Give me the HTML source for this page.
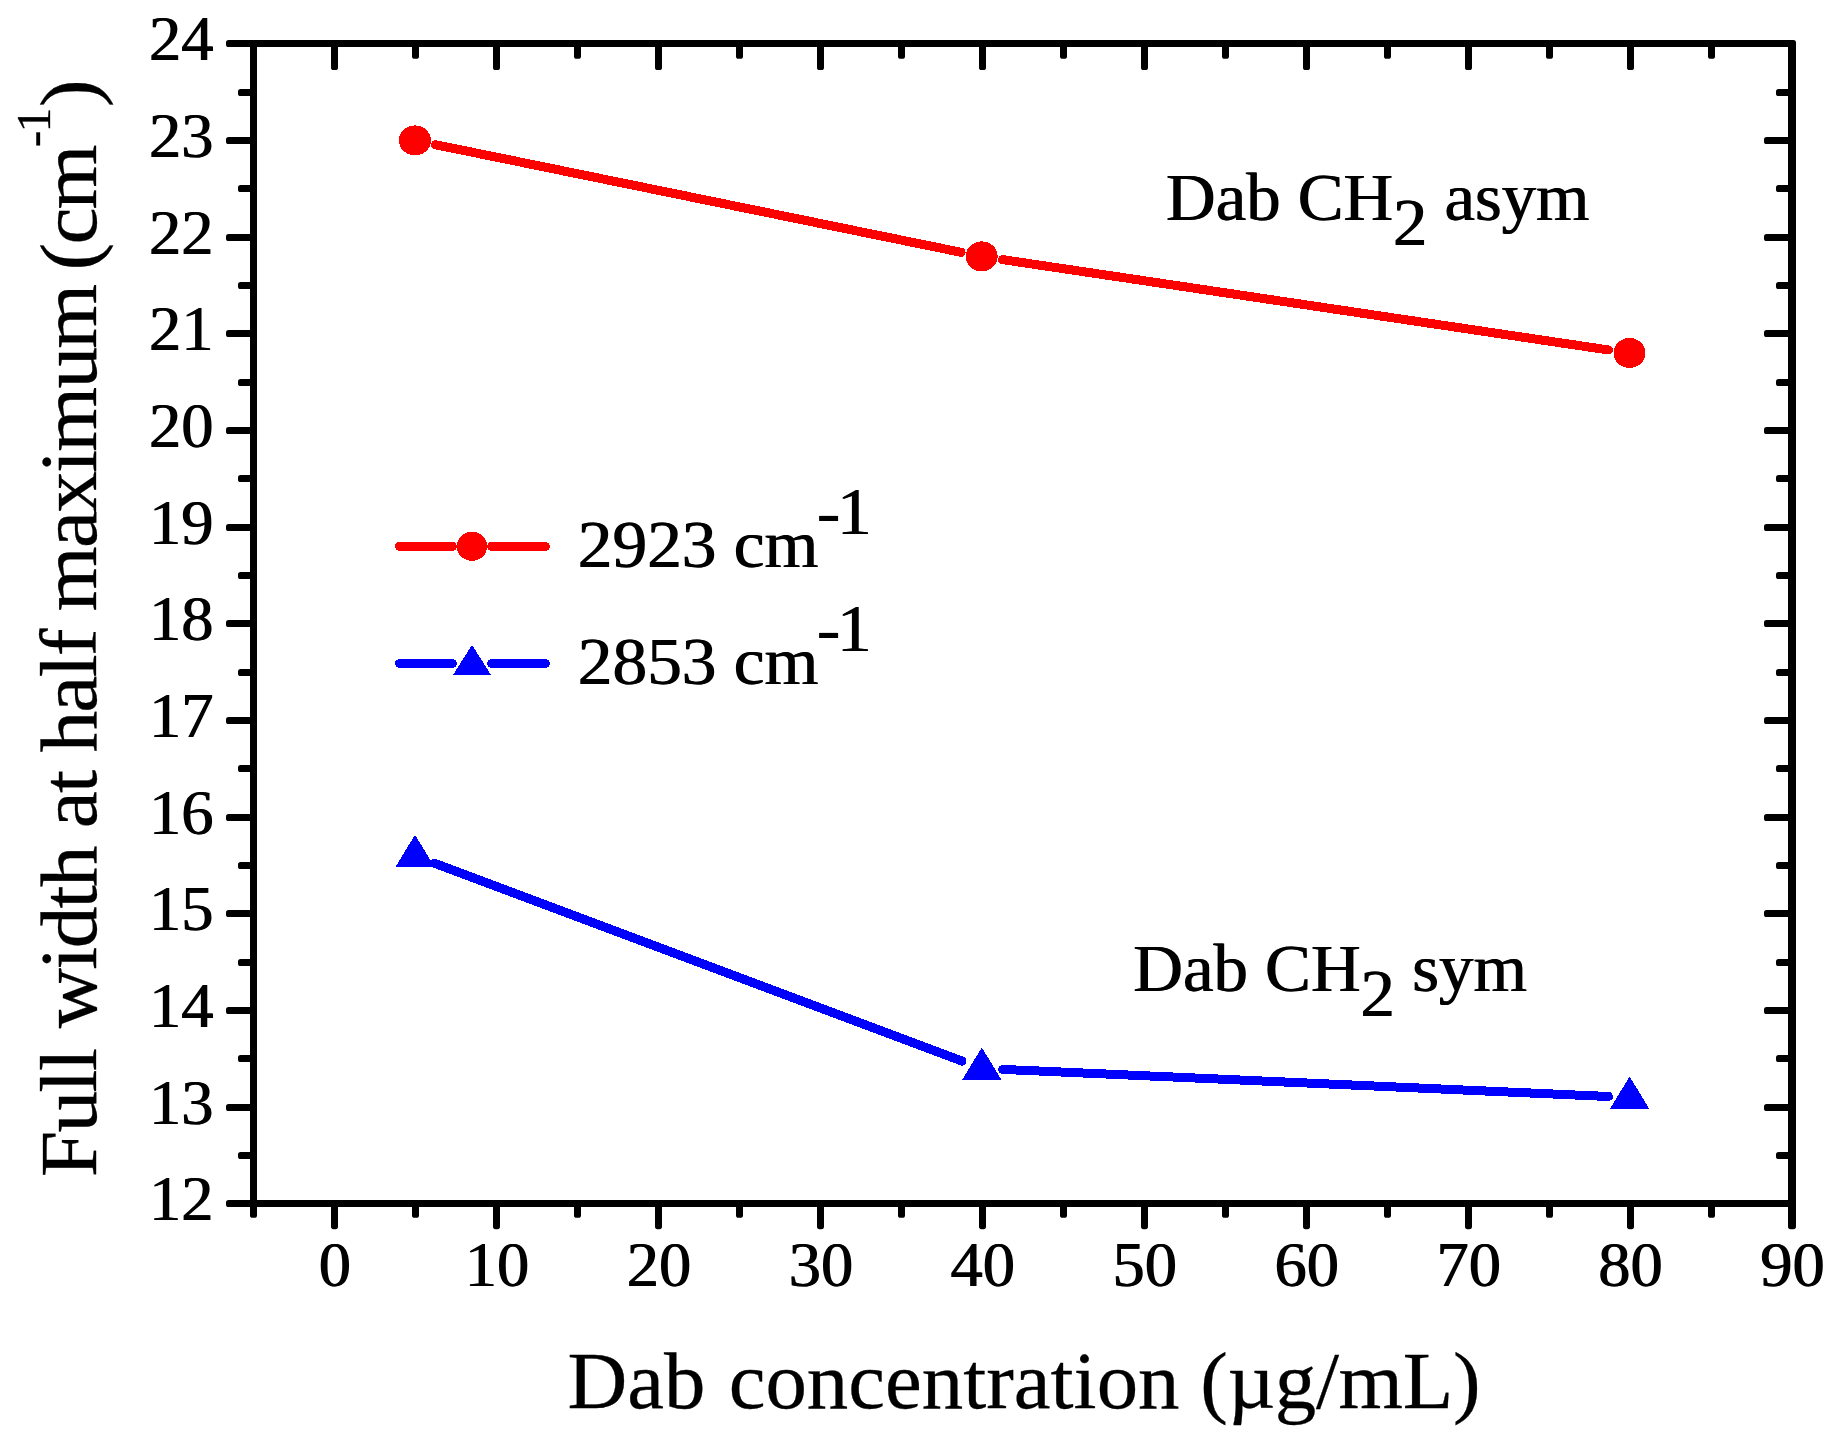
<!DOCTYPE html>
<html lang="en"><head><meta charset="utf-8"><title>Full width at half maximum vs Dab concentration</title>
<style>html,body{margin:0;padding:0;background:#fff}body{width:1838px;height:1446px;overflow:hidden}svg{display:block}text{font-family:"Liberation Serif","Times New Roman",Times,serif;fill:#000}</style>
</head><body>
<svg width="1838" height="1446" viewBox="0 0 1838 1446">
<rect width="1838" height="1446" fill="#fff"/>
<defs><filter id="hb" x="-5%" y="-10%" width="110%" height="120%"><feOffset dx="1" dy="0" result="o"/><feMerge><feMergeNode in="SourceGraphic"/><feMergeNode in="o"/></feMerge></filter></defs>
<g fill="#000">
<rect x="250" y="42" width="7" height="1175.8" rx="2.6"/>
<rect x="1788" y="42" width="8" height="1187.2" rx="2.6"/>
<rect x="226" y="40" width="1570" height="7" rx="2.6"/>
<rect x="226" y="1200" width="1570" height="7" rx="2.6"/>
</g>
<g fill="#000">
<rect x="238" y="1152" width="17" height="7" rx="2.6"/>
<rect x="1776" y="1152" width="16" height="7" rx="2.6"/>
<rect x="226" y="1104" width="29" height="7" rx="2.6"/>
<rect x="1764" y="1104" width="28" height="7" rx="2.6"/>
<rect x="238" y="1055" width="17" height="7" rx="2.6"/>
<rect x="1776" y="1055" width="16" height="7" rx="2.6"/>
<rect x="226" y="1007" width="29" height="7" rx="2.6"/>
<rect x="1764" y="1007" width="28" height="7" rx="2.6"/>
<rect x="238" y="959" width="17" height="7" rx="2.6"/>
<rect x="1776" y="959" width="16" height="7" rx="2.6"/>
<rect x="226" y="910" width="29" height="7" rx="2.6"/>
<rect x="1764" y="910" width="28" height="7" rx="2.6"/>
<rect x="238" y="862" width="17" height="7" rx="2.6"/>
<rect x="1776" y="862" width="16" height="7" rx="2.6"/>
<rect x="226" y="814" width="29" height="7" rx="2.6"/>
<rect x="1764" y="814" width="28" height="7" rx="2.6"/>
<rect x="238" y="765" width="17" height="7" rx="2.6"/>
<rect x="1776" y="765" width="16" height="7" rx="2.6"/>
<rect x="226" y="717" width="29" height="7" rx="2.6"/>
<rect x="1764" y="717" width="28" height="7" rx="2.6"/>
<rect x="238" y="669" width="17" height="7" rx="2.6"/>
<rect x="1776" y="669" width="16" height="7" rx="2.6"/>
<rect x="226" y="620" width="29" height="7" rx="2.6"/>
<rect x="1764" y="620" width="28" height="7" rx="2.6"/>
<rect x="238" y="572" width="17" height="7" rx="2.6"/>
<rect x="1776" y="572" width="16" height="7" rx="2.6"/>
<rect x="226" y="524" width="29" height="7" rx="2.6"/>
<rect x="1764" y="524" width="28" height="7" rx="2.6"/>
<rect x="238" y="475" width="17" height="7" rx="2.6"/>
<rect x="1776" y="475" width="16" height="7" rx="2.6"/>
<rect x="226" y="427" width="29" height="7" rx="2.6"/>
<rect x="1764" y="427" width="28" height="7" rx="2.6"/>
<rect x="238" y="379" width="17" height="7" rx="2.6"/>
<rect x="1776" y="379" width="16" height="7" rx="2.6"/>
<rect x="226" y="330" width="29" height="7" rx="2.6"/>
<rect x="1764" y="330" width="28" height="7" rx="2.6"/>
<rect x="238" y="282" width="17" height="7" rx="2.6"/>
<rect x="1776" y="282" width="16" height="7" rx="2.6"/>
<rect x="226" y="234" width="29" height="7" rx="2.6"/>
<rect x="1764" y="234" width="28" height="7" rx="2.6"/>
<rect x="238" y="185" width="17" height="7" rx="2.6"/>
<rect x="1776" y="185" width="16" height="7" rx="2.6"/>
<rect x="226" y="137" width="29" height="7" rx="2.6"/>
<rect x="1764" y="137" width="28" height="7" rx="2.6"/>
<rect x="238" y="89" width="17" height="7" rx="2.6"/>
<rect x="1776" y="89" width="16" height="7" rx="2.6"/>
<rect x="331" y="1202" width="7" height="27.2" rx="2.6"/>
<rect x="331" y="42" width="7" height="28" rx="2.6"/>
<rect x="412" y="1202" width="7" height="15.8" rx="2.6"/>
<rect x="412" y="42" width="7" height="16.8" rx="2.6"/>
<rect x="493" y="1202" width="7" height="27.2" rx="2.6"/>
<rect x="493" y="42" width="7" height="28" rx="2.6"/>
<rect x="574" y="1202" width="7" height="15.8" rx="2.6"/>
<rect x="574" y="42" width="7" height="16.8" rx="2.6"/>
<rect x="655" y="1202" width="7" height="27.2" rx="2.6"/>
<rect x="655" y="42" width="7" height="28" rx="2.6"/>
<rect x="736" y="1202" width="7" height="15.8" rx="2.6"/>
<rect x="736" y="42" width="7" height="16.8" rx="2.6"/>
<rect x="817" y="1202" width="7" height="27.2" rx="2.6"/>
<rect x="817" y="42" width="7" height="28" rx="2.6"/>
<rect x="898" y="1202" width="7" height="15.8" rx="2.6"/>
<rect x="898" y="42" width="7" height="16.8" rx="2.6"/>
<rect x="979" y="1202" width="7" height="27.2" rx="2.6"/>
<rect x="979" y="42" width="7" height="28" rx="2.6"/>
<rect x="1060" y="1202" width="7" height="15.8" rx="2.6"/>
<rect x="1060" y="42" width="7" height="16.8" rx="2.6"/>
<rect x="1141" y="1202" width="7" height="27.2" rx="2.6"/>
<rect x="1141" y="42" width="7" height="28" rx="2.6"/>
<rect x="1222" y="1202" width="7" height="15.8" rx="2.6"/>
<rect x="1222" y="42" width="7" height="16.8" rx="2.6"/>
<rect x="1303" y="1202" width="7" height="27.2" rx="2.6"/>
<rect x="1303" y="42" width="7" height="28" rx="2.6"/>
<rect x="1384" y="1202" width="7" height="15.8" rx="2.6"/>
<rect x="1384" y="42" width="7" height="16.8" rx="2.6"/>
<rect x="1465" y="1202" width="7" height="27.2" rx="2.6"/>
<rect x="1465" y="42" width="7" height="28" rx="2.6"/>
<rect x="1546" y="1202" width="7" height="15.8" rx="2.6"/>
<rect x="1546" y="42" width="7" height="16.8" rx="2.6"/>
<rect x="1627" y="1202" width="7" height="27.2" rx="2.6"/>
<rect x="1627" y="42" width="7" height="28" rx="2.6"/>
<rect x="1708" y="1202" width="7" height="15.8" rx="2.6"/>
<rect x="1708" y="42" width="7" height="16.8" rx="2.6"/>
</g>
<text transform="translate(213.0 1220.2) scale(1.012 1)" font-size="63.8" text-anchor="end" filter="url(#hb)">12</text>
<text transform="translate(213.0 1123.5) scale(1.012 1)" font-size="63.8" text-anchor="end" filter="url(#hb)">13</text>
<text transform="translate(213.0 1026.9) scale(1.012 1)" font-size="63.8" text-anchor="end" filter="url(#hb)">14</text>
<text transform="translate(213.0 930.2) scale(1.012 1)" font-size="63.8" text-anchor="end" filter="url(#hb)">15</text>
<text transform="translate(213.0 833.5) scale(1.012 1)" font-size="63.8" text-anchor="end" filter="url(#hb)">16</text>
<text transform="translate(213.0 736.9) scale(1.012 1)" font-size="63.8" text-anchor="end" filter="url(#hb)">17</text>
<text transform="translate(213.0 640.2) scale(1.012 1)" font-size="63.8" text-anchor="end" filter="url(#hb)">18</text>
<text transform="translate(213.0 543.5) scale(1.012 1)" font-size="63.8" text-anchor="end" filter="url(#hb)">19</text>
<text transform="translate(213.0 446.9) scale(1.012 1)" font-size="63.8" text-anchor="end" filter="url(#hb)">20</text>
<text transform="translate(213.0 350.2) scale(1.012 1)" font-size="63.8" text-anchor="end" filter="url(#hb)">21</text>
<text transform="translate(213.0 253.5) scale(1.012 1)" font-size="63.8" text-anchor="end" filter="url(#hb)">22</text>
<text transform="translate(213.0 156.9) scale(1.012 1)" font-size="63.8" text-anchor="end" filter="url(#hb)">23</text>
<text transform="translate(213.0 60.2) scale(1.012 1)" font-size="63.8" text-anchor="end" filter="url(#hb)">24</text>
<text transform="translate(334.5 1285.9) scale(1.012 1)" font-size="63.8" text-anchor="middle" filter="url(#hb)">0</text>
<text transform="translate(496.4 1285.9) scale(1.012 1)" font-size="63.8" text-anchor="middle" filter="url(#hb)">10</text>
<text transform="translate(658.4 1285.9) scale(1.012 1)" font-size="63.8" text-anchor="middle" filter="url(#hb)">20</text>
<text transform="translate(820.4 1285.9) scale(1.012 1)" font-size="63.8" text-anchor="middle" filter="url(#hb)">30</text>
<text transform="translate(982.3 1285.9) scale(1.012 1)" font-size="63.8" text-anchor="middle" filter="url(#hb)">40</text>
<text transform="translate(1144.2 1285.9) scale(1.012 1)" font-size="63.8" text-anchor="middle" filter="url(#hb)">50</text>
<text transform="translate(1306.2 1285.9) scale(1.012 1)" font-size="63.8" text-anchor="middle" filter="url(#hb)">60</text>
<text transform="translate(1468.2 1285.9) scale(1.012 1)" font-size="63.8" text-anchor="middle" filter="url(#hb)">70</text>
<text transform="translate(1630.1 1285.9) scale(1.012 1)" font-size="63.8" text-anchor="middle" filter="url(#hb)">80</text>
<text transform="translate(1792.0 1285.9) scale(1.012 1)" font-size="63.8" text-anchor="middle" filter="url(#hb)">90</text>
<g stroke="#f00" stroke-width="9" stroke-linecap="round" fill="none" shape-rendering="crispEdges">
<line x1="435.4" y1="144.7" x2="961.1" y2="252.3"/>
<line x1="1002.5" y1="259.6" x2="1608.7" y2="350.0"/>
</g>
<g stroke="#00f" stroke-width="9" stroke-linecap="round" fill="none" shape-rendering="crispEdges">
<line x1="434.5" y1="863.2" x2="962.0" y2="1061.1"/>
<line x1="1002.7" y1="1069.4" x2="1608.5" y2="1096.5"/>
</g>
<ellipse cx="414.9" cy="140.4" rx="16" ry="15" fill="#f00" shape-rendering="crispEdges"/>
<ellipse cx="981.7" cy="256.4" rx="16" ry="15" fill="#f00" shape-rendering="crispEdges"/>
<ellipse cx="1629.5" cy="353.0" rx="16" ry="15" fill="#f00" shape-rendering="crispEdges"/>
<path d="M415.0 834.8L434.5 866.8H395.5Z" fill="#00f" shape-rendering="crispEdges"/>
<path d="M981.8 1047.5L1001.3 1079.5H962.3Z" fill="#00f" shape-rendering="crispEdges"/>
<path d="M1629.6 1076.5L1649.1 1108.5H1610.1Z" fill="#00f" shape-rendering="crispEdges"/>
<path d="M399.5 546.4H452.4M491.6 546.4H545.3" stroke="#f00" stroke-width="9" stroke-linecap="round" fill="none" shape-rendering="crispEdges"/>
<ellipse cx="472" cy="546.3" rx="15.2" ry="14.6" fill="#f00" shape-rendering="crispEdges"/>
<path d="M399.5 663.5H452.4M491.6 663.5H545.3" stroke="#00f" stroke-width="9" stroke-linecap="round" fill="none" shape-rendering="crispEdges"/>
<path d="M472 644.8L491 675H453Z" fill="#00f" shape-rendering="crispEdges"/>
<text transform="translate(577.3 567.3) scale(1.026 1)" font-size="67.6" filter="url(#hb)">2923 cm<tspan dx="-1.5" dy="-33.3">-</tspan><tspan dx="-3">1</tspan></text>
<text transform="translate(577.3 684.3) scale(1.026 1)" font-size="67.6" filter="url(#hb)">2853 cm<tspan dx="-1.5" dy="-33.3">-</tspan><tspan dx="-3">1</tspan></text>
<text transform="translate(1165.6 220.0) scale(1.025 1)" font-size="67" filter="url(#hb)">Dab CH<tspan dy="24.8">2</tspan><tspan dy="-24.8"> asym</tspan></text>
<text transform="translate(1132.7 991.4) scale(1.027 1)" font-size="67" filter="url(#hb)">Dab CH<tspan dy="24.8">2</tspan><tspan dy="-24.8"> sym</tspan></text>
<text transform="translate(567.4 1408) scale(1.0422 1)" font-size="79.5" stroke="#000" stroke-width="0.3">Dab<tspan dx="2.4"> concentration </tspan><tspan letter-spacing="-0.33">(µg/mL)</tspan></text>
<text transform="translate(96.4 1177.2) rotate(-90) scale(1.05 1)" font-size="79.5" letter-spacing="-1.75" stroke="#000" stroke-width="0.3">Full<tspan dx="2.7"> width at half maximum</tspan><tspan dx="-3.8"> (cm</tspan><tspan dx="-0.9" dy="-46.3" font-size="47.5">-1</tspan><tspan dx="2.1" dy="46.3">)</tspan></text>
</svg>
</body></html>
